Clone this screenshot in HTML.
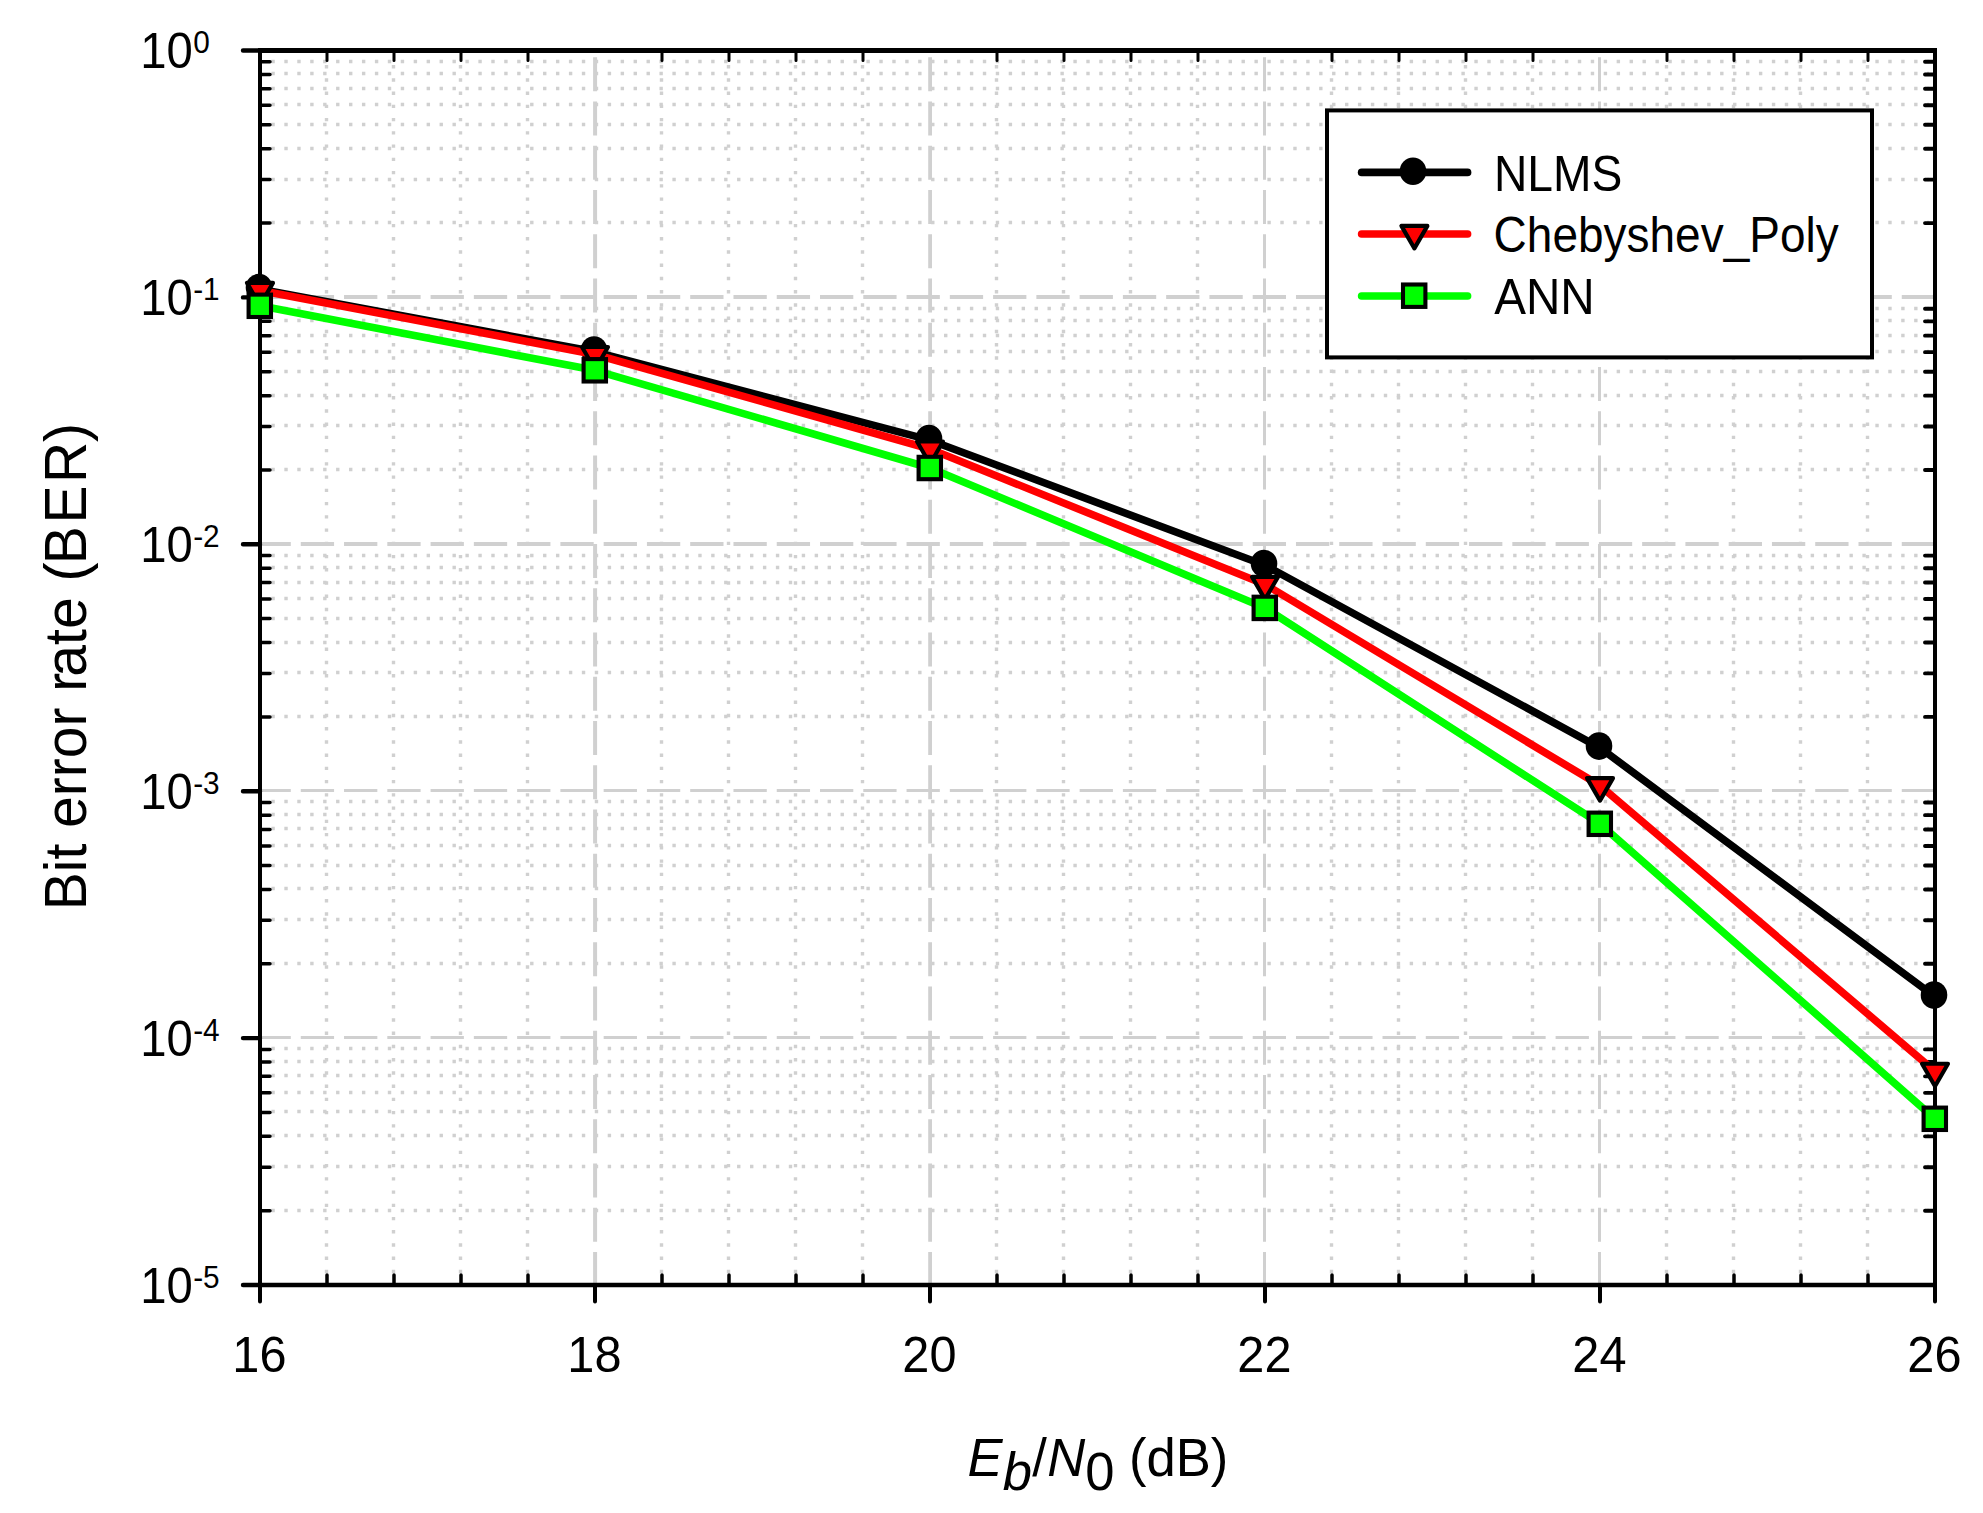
<!DOCTYPE html>
<html lang="en"><head><meta charset="utf-8"><title>BER vs Eb/N0</title>
<style>html,body{margin:0;padding:0;background:#fff;overflow:hidden}svg{display:block}text{font-family:"Liberation Sans",sans-serif;fill:#000}</style></head><body>
<svg width="1983" height="1513" viewBox="0 0 1983 1513">
<rect x="0" y="0" width="1983" height="1513" fill="#fff"/>
<g stroke="#d0d0d0" stroke-width="3.4" fill="none">
<path d="M271.40 222.50H1929.0" stroke-dasharray="3.4 9.535"/>
<path d="M271.40 179.50H1929.0" stroke-dasharray="3.4 9.535"/>
<path d="M271.40 148.50H1929.0" stroke-dasharray="3.4 9.535"/>
<path d="M271.40 124.50H1929.0" stroke-dasharray="3.4 9.535"/>
<path d="M271.40 104.50H1929.0" stroke-dasharray="3.4 9.535"/>
<path d="M271.40 88.50H1929.0" stroke-dasharray="3.4 9.535"/>
<path d="M271.40 73.50H1929.0" stroke-dasharray="3.4 9.535"/>
<path d="M271.40 61.50H1929.0" stroke-dasharray="3.4 9.535"/>
<path d="M271.40 469.50H1929.0" stroke-dasharray="3.4 9.535"/>
<path d="M271.40 425.50H1929.0" stroke-dasharray="3.4 9.535"/>
<path d="M271.40 395.50H1929.0" stroke-dasharray="3.4 9.535"/>
<path d="M271.40 371.50H1929.0" stroke-dasharray="3.4 9.535"/>
<path d="M271.40 351.50H1929.0" stroke-dasharray="3.4 9.535"/>
<path d="M271.40 335.50H1929.0" stroke-dasharray="3.4 9.535"/>
<path d="M271.40 320.50H1929.0" stroke-dasharray="3.4 9.535"/>
<path d="M271.40 308.50H1929.0" stroke-dasharray="3.4 9.535"/>
<path d="M271.40 716.50H1929.0" stroke-dasharray="3.4 9.535"/>
<path d="M271.40 672.50H1929.0" stroke-dasharray="3.4 9.535"/>
<path d="M271.40 642.50H1929.0" stroke-dasharray="3.4 9.535"/>
<path d="M271.40 618.50H1929.0" stroke-dasharray="3.4 9.535"/>
<path d="M271.40 598.50H1929.0" stroke-dasharray="3.4 9.535"/>
<path d="M271.40 582.50H1929.0" stroke-dasharray="3.4 9.535"/>
<path d="M271.40 567.50H1929.0" stroke-dasharray="3.4 9.535"/>
<path d="M271.40 555.50H1929.0" stroke-dasharray="3.4 9.535"/>
<path d="M271.40 963.50H1929.0" stroke-dasharray="3.4 9.535"/>
<path d="M271.40 919.50H1929.0" stroke-dasharray="3.4 9.535"/>
<path d="M271.40 888.50H1929.0" stroke-dasharray="3.4 9.535"/>
<path d="M271.40 865.50H1929.0" stroke-dasharray="3.4 9.535"/>
<path d="M271.40 845.50H1929.0" stroke-dasharray="3.4 9.535"/>
<path d="M271.40 828.50H1929.0" stroke-dasharray="3.4 9.535"/>
<path d="M271.40 814.50H1929.0" stroke-dasharray="3.4 9.535"/>
<path d="M271.40 801.50H1929.0" stroke-dasharray="3.4 9.535"/>
<path d="M271.40 1210.50H1929.0" stroke-dasharray="3.4 9.535"/>
<path d="M271.40 1166.50H1929.0" stroke-dasharray="3.4 9.535"/>
<path d="M271.40 1135.50H1929.0" stroke-dasharray="3.4 9.535"/>
<path d="M271.40 1111.50H1929.0" stroke-dasharray="3.4 9.535"/>
<path d="M271.40 1092.50H1929.0" stroke-dasharray="3.4 9.535"/>
<path d="M271.40 1075.50H1929.0" stroke-dasharray="3.4 9.535"/>
<path d="M271.40 1061.50H1929.0" stroke-dasharray="3.4 9.535"/>
<path d="M271.40 1048.50H1929.0" stroke-dasharray="3.4 9.535"/>
<path d="M326.50 1273.24V56.5" stroke-dasharray="3.4 9.840"/>
<path d="M393.50 1273.24V56.5" stroke-dasharray="3.4 9.840"/>
<path d="M460.50 1273.24V56.5" stroke-dasharray="3.4 9.840"/>
<path d="M527.50 1273.24V56.5" stroke-dasharray="3.4 9.840"/>
<path d="M661.50 1273.24V56.5" stroke-dasharray="3.4 9.840"/>
<path d="M728.50 1273.24V56.5" stroke-dasharray="3.4 9.840"/>
<path d="M795.50 1273.24V56.5" stroke-dasharray="3.4 9.840"/>
<path d="M862.50 1273.24V56.5" stroke-dasharray="3.4 9.840"/>
<path d="M996.50 1273.24V56.5" stroke-dasharray="3.4 9.840"/>
<path d="M1063.50 1273.24V56.5" stroke-dasharray="3.4 9.840"/>
<path d="M1130.50 1273.24V56.5" stroke-dasharray="3.4 9.840"/>
<path d="M1197.50 1273.24V56.5" stroke-dasharray="3.4 9.840"/>
<path d="M1331.50 1273.24V56.5" stroke-dasharray="3.4 9.840"/>
<path d="M1398.50 1273.24V56.5" stroke-dasharray="3.4 9.840"/>
<path d="M1465.50 1273.24V56.5" stroke-dasharray="3.4 9.840"/>
<path d="M1532.50 1273.24V56.5" stroke-dasharray="3.4 9.840"/>
<path d="M1666.50 1273.24V56.5" stroke-dasharray="3.4 9.840"/>
<path d="M1733.50 1273.24V56.5" stroke-dasharray="3.4 9.840"/>
<path d="M1800.50 1273.24V56.5" stroke-dasharray="3.4 9.840"/>
<path d="M1867.50 1273.24V56.5" stroke-dasharray="3.4 9.840"/>
</g>
<g stroke="#d0d0d0" fill="none">
<path d="M257.5 297.00H1935.0" stroke-width="4" stroke-dasharray="33.3 9.97"/>
<path d="M257.5 544.00H1935.0" stroke-width="4" stroke-dasharray="33.3 9.97"/>
<path d="M257.5 790.50H1935.0" stroke-width="3" stroke-dasharray="33.3 9.97"/>
<path d="M257.5 1037.50H1935.0" stroke-width="3" stroke-dasharray="33.3 9.97"/>
<path d="M595.10 1286V50.5" stroke-width="4" stroke-dasharray="34 10.25"/>
<path d="M930.10 1286V50.5" stroke-width="3.8" stroke-dasharray="34 10.25"/>
<path d="M1264.50 1286V50.5" stroke-width="3" stroke-dasharray="34 10.25"/>
<path d="M1599.50 1286V50.5" stroke-width="3" stroke-dasharray="34 10.25"/>
</g>
<g stroke="#000" stroke-linecap="round" fill="none">
<path stroke-width="3.5" d="M260.0 223.08h10M260.0 179.60h10M260.0 148.75h10M260.0 124.82h10M260.0 105.27h10M260.0 88.75h10M260.0 74.43h10M260.0 61.80h10M260.0 469.98h10M260.0 426.50h10M260.0 395.65h10M260.0 371.72h10M260.0 352.17h10M260.0 335.65h10M260.0 321.33h10M260.0 308.70h10M260.0 716.88h10M260.0 673.40h10M260.0 642.55h10M260.0 618.62h10M260.0 599.07h10M260.0 582.55h10M260.0 568.23h10M260.0 555.60h10M260.0 963.78h10M260.0 920.30h10M260.0 889.45h10M260.0 865.52h10M260.0 845.97h10M260.0 829.45h10M260.0 815.13h10M260.0 802.50h10M260.0 1210.68h10M260.0 1167.20h10M260.0 1136.35h10M260.0 1112.42h10M260.0 1092.87h10M260.0 1076.35h10M260.0 1062.03h10M260.0 1049.40h10"/>
<path stroke-width="3.9" d="M1935.0 223.08h-10M1935.0 179.60h-10M1935.0 148.75h-10M1935.0 124.82h-10M1935.0 105.27h-10M1935.0 88.75h-10M1935.0 74.43h-10M1935.0 61.80h-10M1935.0 469.98h-10M1935.0 426.50h-10M1935.0 395.65h-10M1935.0 371.72h-10M1935.0 352.17h-10M1935.0 335.65h-10M1935.0 321.33h-10M1935.0 308.70h-10M1935.0 716.88h-10M1935.0 673.40h-10M1935.0 642.55h-10M1935.0 618.62h-10M1935.0 599.07h-10M1935.0 582.55h-10M1935.0 568.23h-10M1935.0 555.60h-10M1935.0 963.78h-10M1935.0 920.30h-10M1935.0 889.45h-10M1935.0 865.52h-10M1935.0 845.97h-10M1935.0 829.45h-10M1935.0 815.13h-10M1935.0 802.50h-10M1935.0 1210.68h-10M1935.0 1167.20h-10M1935.0 1136.35h-10M1935.0 1112.42h-10M1935.0 1092.87h-10M1935.0 1076.35h-10M1935.0 1062.03h-10M1935.0 1049.40h-10"/>
<path stroke-width="3" d="M327.00 50.5v10M394.00 50.5v10M461.00 50.5v10M528.00 50.5v10M662.00 50.5v10M729.00 50.5v10M796.00 50.5v10M863.00 50.5v10M997.00 50.5v10M1064.00 50.5v10M1131.00 50.5v10M1198.00 50.5v10M1332.00 50.5v10M1399.00 50.5v10M1466.00 50.5v10M1533.00 50.5v10M1667.00 50.5v10M1734.00 50.5v10M1801.00 50.5v10M1868.00 50.5v10"/>
<path stroke-width="3.5" d="M327.00 1285.0v-10M394.00 1285.0v-10M461.00 1285.0v-10M528.00 1285.0v-10M662.00 1285.0v-10M729.00 1285.0v-10M796.00 1285.0v-10M863.00 1285.0v-10M997.00 1285.0v-10M1064.00 1285.0v-10M1131.00 1285.0v-10M1198.00 1285.0v-10M1332.00 1285.0v-10M1399.00 1285.0v-10M1466.00 1285.0v-10M1533.00 1285.0v-10M1667.00 1285.0v-10M1734.00 1285.0v-10M1801.00 1285.0v-10M1868.00 1285.0v-10"/>
<path stroke-width="4.4" d="M260.0 50.50h-17M260.0 297.40h-17M260.0 544.30h-17M260.0 791.20h-17M260.0 1038.10h-17M260.0 1285.00h-17"/>
<path stroke-width="4" d="M260.00 1285.0v16.5M595.00 1285.0v16.5M930.00 1285.0v16.5M1265.00 1285.0v16.5M1600.00 1285.0v16.5M1935.00 1285.0v16.5"/>
</g>
<g stroke="#000" fill="none">
<path stroke-width="4.8" d="M258.0 50.5H1937.0"/>
<path stroke-width="4.4" d="M258.0 1285.0H1937.0"/>
<path stroke-width="4" d="M260.0 50.5V1285.0M1935.0 50.5V1285.0"/>
</g>
<polyline points="260.0,289.3 595.0,351.8 930.0,440.2 1265.0,565.3 1600.0,747.8 1935.0,996.8" fill="none" stroke="#000" stroke-width="7.6" stroke-linejoin="round"/>
<ellipse cx="259.0" cy="287.6" rx="13.3" ry="13.8" fill="#000"/>
<ellipse cx="594.0" cy="350.1" rx="13.3" ry="13.8" fill="#000"/>
<ellipse cx="929.0" cy="438.5" rx="13.3" ry="13.8" fill="#000"/>
<ellipse cx="1264.0" cy="563.6" rx="13.3" ry="13.8" fill="#000"/>
<ellipse cx="1599.0" cy="746.1" rx="13.3" ry="13.8" fill="#000"/>
<ellipse cx="1934.0" cy="995.1" rx="13.3" ry="13.8" fill="#000"/>
<polyline points="260.0,290.4 595.0,354.5 930.0,449.0 1265.0,584.4 1600.0,785.6 1935.0,1071.3" fill="none" stroke="#f00" stroke-width="7.6" stroke-linejoin="round"/>
<path d="M247.00 282.90h26L260.00 305.40z" fill="#f00" stroke="#000" stroke-width="4.1" stroke-linejoin="round"/>
<path d="M582.00 347.00h26L595.00 369.50z" fill="#f00" stroke="#000" stroke-width="4.1" stroke-linejoin="round"/>
<path d="M917.00 441.50h26L930.00 464.00z" fill="#f00" stroke="#000" stroke-width="4.1" stroke-linejoin="round"/>
<path d="M1252.00 576.90h26L1265.00 599.40z" fill="#f00" stroke="#000" stroke-width="4.1" stroke-linejoin="round"/>
<path d="M1587.00 778.10h26L1600.00 800.60z" fill="#f00" stroke="#000" stroke-width="4.1" stroke-linejoin="round"/>
<path d="M1922.00 1063.80h26L1935.00 1086.30z" fill="#f00" stroke="#000" stroke-width="4.1" stroke-linejoin="round"/>
<polyline points="260.0,305.8 595.0,370.3 930.0,468.0 1265.0,607.9 1600.0,823.8 1935.0,1118.8" fill="none" stroke="#0f0" stroke-width="7.6" stroke-linejoin="round"/>
<rect x="248.60" y="294.60" width="22.4" height="22.4" fill="#0f0" stroke="#000" stroke-width="4.1"/>
<rect x="583.60" y="359.10" width="22.4" height="22.4" fill="#0f0" stroke="#000" stroke-width="4.1"/>
<rect x="918.60" y="456.80" width="22.4" height="22.4" fill="#0f0" stroke="#000" stroke-width="4.1"/>
<rect x="1253.60" y="596.70" width="22.4" height="22.4" fill="#0f0" stroke="#000" stroke-width="4.1"/>
<rect x="1588.60" y="812.60" width="22.4" height="22.4" fill="#0f0" stroke="#000" stroke-width="4.1"/>
<rect x="1923.60" y="1107.60" width="22.4" height="22.4" fill="#0f0" stroke="#000" stroke-width="4.1"/>
<rect x="1327" y="110.4" width="545" height="247" fill="#fff" stroke="#000" stroke-width="4"/>
<path d="M1361.6 172.4H1467.6" stroke="#000" stroke-width="7.6" stroke-linecap="round" fill="none"/>
<path d="M1361.6 234.0H1467.6" stroke="#f00" stroke-width="7.6" stroke-linecap="round" fill="none"/>
<path d="M1361.6 296.0H1467.6" stroke="#0f0" stroke-width="7.6" stroke-linecap="round" fill="none"/>
<ellipse cx="1413.0" cy="171.3" rx="13.3" ry="13.8" fill="#000"/>
<path d="M1401.40 225.90h26L1414.40 248.40z" fill="#f00" stroke="#000" stroke-width="4.1" stroke-linejoin="round"/>
<rect x="1403.00" y="284.50" width="22.4" height="22.4" fill="#0f0" stroke="#000" stroke-width="4.1"/>
<text transform="translate(1494.0 191.0) scale(0.9240 1)" font-size="50.0" text-anchor="start">NLMS</text>
<text transform="translate(1493.6 252.3) scale(0.9200 1)" font-size="50.0" text-anchor="start">Chebyshev_Poly</text>
<text transform="translate(1494.2 313.5) scale(0.9520 1)" font-size="50.0" text-anchor="start">ANN</text>
<text transform="translate(140.2 68.1) scale(0.9460 1)" font-size="50.0" text-anchor="start">10<tspan font-size="31.5" dx="0.4" dy="-15">0</tspan></text>
<text transform="translate(140.2 315.0) scale(0.9460 1)" font-size="50.0" text-anchor="start">10<tspan font-size="31.5" dx="0.4" dy="-15">-1</tspan></text>
<text transform="translate(140.2 561.9) scale(0.9460 1)" font-size="50.0" text-anchor="start">10<tspan font-size="31.5" dx="0.4" dy="-15">-2</tspan></text>
<text transform="translate(140.2 808.8) scale(0.9460 1)" font-size="50.0" text-anchor="start">10<tspan font-size="31.5" dx="0.4" dy="-15">-3</tspan></text>
<text transform="translate(140.2 1055.7) scale(0.9460 1)" font-size="50.0" text-anchor="start">10<tspan font-size="31.5" dx="0.4" dy="-15">-4</tspan></text>
<text transform="translate(140.2 1302.6) scale(0.9460 1)" font-size="50.0" text-anchor="start">10<tspan font-size="31.5" dx="0.4" dy="-15">-5</tspan></text>
<text transform="translate(259.4 1372) scale(0.9740 1)" font-size="50.0" text-anchor="middle">16</text>
<text transform="translate(594.4 1372) scale(0.9740 1)" font-size="50.0" text-anchor="middle">18</text>
<text transform="translate(929.4 1372) scale(0.9740 1)" font-size="50.0" text-anchor="middle">20</text>
<text transform="translate(1264.4 1372) scale(0.9740 1)" font-size="50.0" text-anchor="middle">22</text>
<text transform="translate(1599.4 1372) scale(0.9740 1)" font-size="50.0" text-anchor="middle">24</text>
<text transform="translate(1934.4 1372) scale(0.9740 1)" font-size="50.0" text-anchor="middle">26</text>
<text transform="translate(967.6 1475.8) scale(0.9887 1)" font-size="53.2" text-anchor="start"><tspan font-style="italic">E</tspan><tspan font-style="italic" dy="14.2">b</tspan><tspan dy="-14.2" dx="0.3">/</tspan><tspan font-style="italic" dx="0.3">N</tspan><tspan dy="14.2">0</tspan><tspan dy="-14.2"> (dB)</tspan></text>
<text transform="translate(86.2 666.6) rotate(-90) scale(0.9661 1)" font-size="59.0" text-anchor="middle">Bit error r<tspan dx="-4">ate (</tspan><tspan dx="-1.8">B</tspan><tspan dx="2.9">E</tspan><tspan dx="2.5">R)</tspan></text>
</svg></body></html>
